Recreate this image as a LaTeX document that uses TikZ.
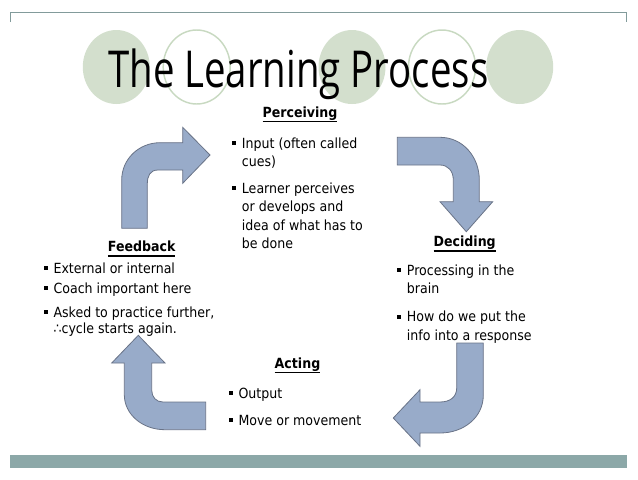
\documentclass[tikz,border=0pt]{standalone}
\usepackage{fontspec}
\setmainfont{DejaVu Sans Condensed}
\newfontfamily\titlefont{Open Sans}
\usetikzlibrary{calc}
\definecolor{sage}{RGB}{211,223,205}
\definecolor{sageline}{RGB}{200,217,193}
\definecolor{arrowfill}{RGB}{152,171,201}
\definecolor{arrowline}{RGB}{105,115,135}
\definecolor{barcol}{RGB}{140,168,168}
\definecolor{framecol}{RGB}{130,155,155}
\newcommand\hdul[1]{\setbox0\hbox{#1}\rlap{\rule[-3.7pt]{\wd0}{0.9pt}}\box0}
\newcommand\bitem[4]{\node[body] (#1) at (#2,#3) {#4};
  \fill[black] ($(#1.base west)+(-9.5,-7)$) rectangle ++(4,4);}
\newcommand\litem[4]{\node[body] (#1) at (#2,#3) {#4};}
\begin{document}
\begin{tikzpicture}[x=0.75pt,y=-0.75pt,
  bentarrow/.style={fill=arrowfill, draw=arrowline, line width=0.6pt, line join=miter},
  body/.style={anchor=base west, inner sep=0pt, font=\fontsize{10.5pt}{12pt}\selectfont},
  head/.style={anchor=base, inner sep=0pt, font=\bfseries\fontsize{10.5pt}{12pt}\selectfont},
  fillcirc/.style={fill=sage, draw=none},
  ringcirc/.style={draw=sageline, line width=1.1pt}]
\useasboundingbox (0,0) rectangle (638,479);
% frame
\draw[framecol, line width=0.75pt] (10,22) -- (10,12) -- (626,12) -- (626,22);
\fill[barcol] (10,455) rectangle (627,468);
% circles
\fill[fillcirc] (116.3,67) ellipse [x radius=33.5, y radius=37];
\draw[ringcirc] (196.7,67) ellipse [x radius=33.5, y radius=37];
\fill[fillcirc] (352,67) ellipse [x radius=33.5, y radius=37];
\draw[ringcirc] (442,67) ellipse [x radius=33.5, y radius=37];
\fill[fillcirc] (519.7,67) ellipse [x radius=33.5, y radius=37];
% title
\node[anchor=base west, inner sep=0pt] (title) at (108,87)
  {\resizebox{285pt}{29pt}{\titlefont The Learning Process}};
% arrows
\draw[bentarrow] (121.7,228.3) -- (121.7,180)
  .. controls (121.7,159) and (139,142.7) .. (160,142.7)
  -- (182.7,142.7) -- (182.7,127.3) -- (210,155) -- (182.7,183.3) -- (182.7,170)
  -- (158,170) .. controls (150,170) and (147.3,176) .. (147.3,184)
  -- (147.3,228.3) -- cycle;
\draw[bentarrow] (397.3,137.3) -- (440,137.3)
  .. controls (463,137.3) and (479.3,157) .. (479.3,180)
  -- (479.3,201.7) -- (492.7,201.7) -- (466.3,231.7) -- (440,201.7) -- (453.3,201.7)
  -- (453.3,180) .. controls (453.3,171) and (448,165) .. (440,165)
  -- (397.3,165) -- cycle;
\draw[bentarrow] (456.7,343) -- (483.3,343) -- (483.3,395)
  .. controls (483.3,418) and (463,433) .. (440,433)
  -- (420,433) -- (420,446.3) -- (393.3,418) -- (420,389.7) -- (420,402)
  -- (440,402) .. controls (450,402) and (456.7,397) .. (456.7,388)
  -- cycle;
\draw[bentarrow] (205.7,402) -- (205.7,429.7) -- (165,429.7)
  .. controls (142,429.7) and (124.3,414) .. (124.3,394.7)
  -- (124.3,363) -- (111.7,363) -- (138.3,335.3) -- (165,363) -- (151.7,363)
  -- (151.7,390) .. controls (151.7,397) and (156,402) .. (163,402)
  -- cycle;
% headings
\node[head] (hperc) at (300,117) {\hdul{Perceiving}};
\node[head] (hdec) at (464.7,246.7) {\hdul{Deciding}};
\node[head] (hfeed) at (141.7,251.7) {\hdul{Feedback}};
\node[head] (hact) at (297.5,368.3) {\hdul{Acting}};
% perceiving
\bitem{p1}{241.7}{148.3}{Input (often called}
\litem{p2}{241.7}{166.7}{cues)}
\bitem{p3}{241.7}{193.3}{Learner perceives}
\litem{p4}{241.7}{211.7}{or develops and}
\litem{p5}{241.7}{230}{idea of what has to}
\litem{p6}{241.7}{248.3}{be done}
% deciding
\bitem{d1}{406.7}{275}{Processing in the}
\litem{d2}{406.7}{293.3}{brain}
\bitem{d3}{406.7}{321.7}{How do we put the}
\litem{d4}{406.7}{340}{info into a response}
% feedback
\bitem{f1}{53.3}{273.3}{External or internal}
\bitem{f2}{53.3}{293.3}{Coach important here}
\bitem{f3}{53.3}{317.3}{Asked to practice further,}
\litem{f4}{53.3}{333.3}{∴cycle starts again.}
% acting
\bitem{a1}{238.3}{398.3}{Output}
\bitem{a2}{238.3}{425}{Move or movement}
\end{tikzpicture}
\end{document}
